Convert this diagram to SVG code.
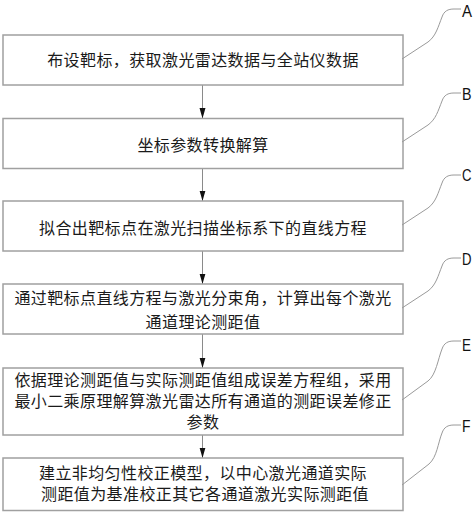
<svg xmlns="http://www.w3.org/2000/svg" width="474" height="512" viewBox="0 0 474 512">
<defs>
<style>
.box{fill:#fff;stroke:#a0a0a0;stroke-width:1.5}
.t{font-family:"Noto Sans CJK SC","Liberation Sans",sans-serif;font-size:16px;letter-spacing:0.4px;fill:#1a1a1a;text-anchor:middle}
.lead{fill:none;stroke:#9a9a9a;stroke-width:1}
.lbl{font-family:"Liberation Sans","DejaVu Sans",sans-serif;font-size:17px;fill:#111}
.conn{stroke:#8a8a8a;stroke-width:1;fill:none}
</style>
<marker id="ah" markerUnits="userSpaceOnUse" markerWidth="11" markerHeight="7" refX="10.5" refY="3.5" orient="auto">
<path d="M0,0.5 L10.5,3.5 L0,6.5 z" fill="#111"/>
</marker>
</defs>
<rect width="474" height="512" fill="#fff"/>
<g id="connectors">
<line class="conn" x1="202.5" y1="85" x2="202.5" y2="118.5" marker-end="url(#ah)"/>
<line class="conn" x1="202.5" y1="168" x2="202.5" y2="201" marker-end="url(#ah)"/>
<line class="conn" x1="202.5" y1="251" x2="202.5" y2="284" marker-end="url(#ah)"/>
<line class="conn" x1="202.5" y1="334" x2="202.5" y2="368" marker-end="url(#ah)"/>
<line class="conn" x1="202.5" y1="435" x2="202.5" y2="458" marker-end="url(#ah)"/>
</g>
<g id="nodeA">
<rect class="box" x="3" y="35" width="400" height="50"/>
<text class="t" x="203" y="66">布设靶标，获取激光雷达数据与全站仪数据</text>
</g>
<g id="nodeB">
<rect class="box" x="3" y="118.5" width="400" height="50"/>
<text class="t" x="203" y="151">坐标参数转换解算</text>
</g>
<g id="nodeC">
<rect class="box" x="3" y="201" width="400" height="50"/>
<text class="t" x="203" y="234">拟合出靶标点在激光扫描坐标系下的直线方程</text>
</g>
<g id="nodeD">
<rect class="box" x="3" y="284" width="400" height="50"/>
<text class="t" x="203" y="304">通过靶标点直线方程与激光分束角，计算出每个激光</text>
<text class="t" x="203" y="327.5">通道理论测距值</text>
</g>
<g id="nodeE">
<rect class="box" x="3" y="368" width="400" height="67"/>
<text class="t" x="203" y="386">依据理论测距值与实际测距值组成误差方程组，采用</text>
<text class="t" x="203" y="406.5">最小二乘原理解算激光雷达所有通道的测距误差修正</text>
<text class="t" x="203" y="427.5">参数</text>
</g>
<g id="nodeF">
<rect class="box" x="3" y="458" width="400" height="52.5"/>
<text class="t" x="203" y="479">建立非均匀性校正模型，以中心激光通道实际</text>
<text class="t" x="205" y="500">测距值为基准校正其它各通道激光实际测距值</text>
</g>
<g id="labelA">
<path class="lead" d="M402,59 L428,42 C436,36 438,27 442,17 C444,11 448,9 454,9 L461,9"/>
<text class="lbl" x="462" y="17" textLength="10" lengthAdjust="spacingAndGlyphs">A</text>
</g>
<g id="labelB">
<path class="lead" d="M402,142 L428,125 C436,119 438,111 442,101 C444,95 448,93 454,93 L461,93"/>
<text class="lbl" x="462" y="100" textLength="9.5" lengthAdjust="spacingAndGlyphs">B</text>
</g>
<g id="labelC">
<path class="lead" d="M402,225 L428,208 C436,202 438,193 442,183 C444,177 448,175 454,175 L461,175"/>
<text class="lbl" x="462" y="181" textLength="9.5" lengthAdjust="spacingAndGlyphs">C</text>
</g>
<g id="labelD">
<path class="lead" d="M402,308 L428,291 C436,285 438,276 442,266 C444,260 448,258 454,258 L461,258"/>
<text class="lbl" x="462" y="265" textLength="9.5" lengthAdjust="spacingAndGlyphs">D</text>
</g>
<g id="labelE">
<path class="lead" d="M402,400 L428,381 C436,375 438,359 442,349 C444,343 448,341 454,341 L461,341"/>
<text class="lbl" x="462" y="351" textLength="9" lengthAdjust="spacingAndGlyphs">E</text>
</g>
<g id="labelF">
<path class="lead" d="M402,485 L429,464 C437,457 438,443 442,433 C444,427 448,425 454,425 L461,425"/>
<text class="lbl" x="462" y="432" textLength="8.5" lengthAdjust="spacingAndGlyphs">F</text>
</g>
</svg>
